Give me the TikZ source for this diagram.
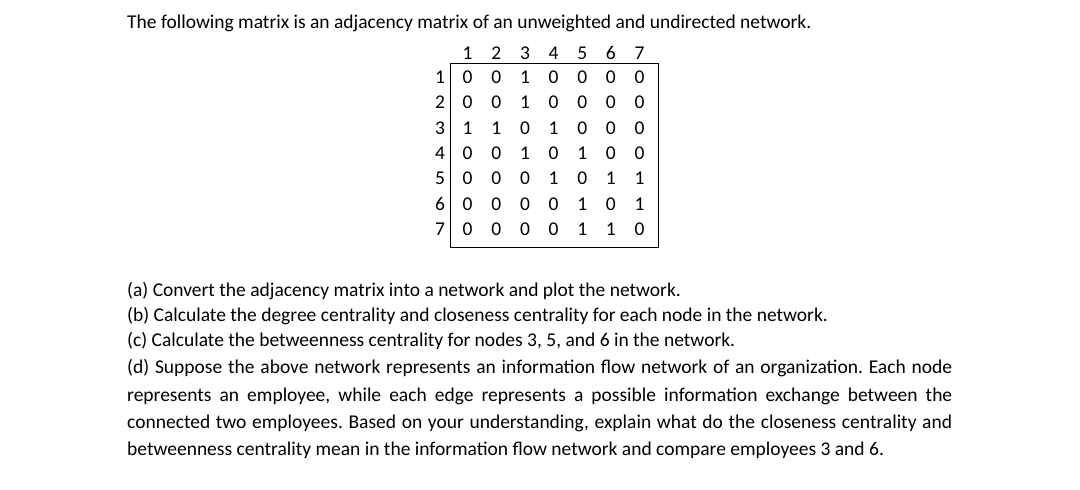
\documentclass[tikz,border=0pt]{standalone}
\usepackage{fontspec}
\setmainfont{Carlito}
\frenchspacing
\begin{document}
\begin{tikzpicture}[x=1pt,y=-1pt,
  txt/.style={anchor=west,inner sep=0pt,font=\fontsize{19.5}{23}\selectfont},
  cell/.style={inner sep=0pt,font=\fontsize{19.5}{23}\selectfont}]
\useasboundingbox (0,0) rectangle (1080,490);
\node[txt] (t0) at (127,23) {The following matrix is an adjacency matrix of an unweighted and undirected network.};
\draw[line width=0.8pt] (450,63) rectangle (658,247);
\foreach \r/\a/\b/\c/\d/\e/\f/\g [count=\i] in {1/0/0/1/0/0/0/0,2/0/0/1/0/0/0/0,3/1/1/0/1/0/0/0,4/0/0/1/0/1/0/0,5/0/0/0/1/0/1/1,6/0/0/0/0/1/0/1,7/0/0/0/0/1/1/0}{
  \pgfmathsetmacro\yy{52+25.3*\i}
  \pgfmathsetmacro\xx{439+28.65*\i}
  \node[cell] (h\i) at (\xx,53) {\r};
  \node[cell] (r\i) at (440,\yy) {\r};
  \foreach \v [count=\j] in {\a,\b,\c,\d,\e,\f,\g}{
    \pgfmathsetmacro\cx{439+28.65*\j}
    \node[cell] (c\i-\j) at (\cx,\yy) {\v};
  }
}
\node[txt] (a) at (127,291) {(a) Convert the adjacency matrix into a network and plot the network.};
\node[txt] (b) at (127,316) {(b) Calculate the degree centrality and closeness centrality for each node in the network.};
\node[txt] (c) at (127,341) {(c) Calculate the betweenness centrality for nodes 3, 5, and 6 in the network.};
\node[txt] (d1) at (127,368) {\makebox[825pt][s]{(d) Suppose the above network represents an information flow network of an organization. Each node}};
\node[txt] (d2) at (127,396) {\makebox[825pt][s]{represents an employee, while each edge represents a possible information exchange between the}};
\node[txt] (d3) at (127,423) {\makebox[825pt][s]{connected two employees. Based on your understanding, explain what do the closeness centrality and}};
\node[txt] (d4) at (127,450) {betweenness centrality mean in the information flow network and compare employees 3 and 6.};
\end{tikzpicture}
\end{document}
